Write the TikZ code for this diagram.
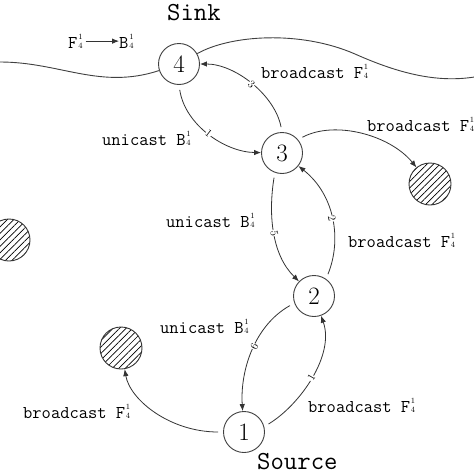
\documentclass[tikz,border=0pt]{standalone}
\usetikzlibrary{arrows.meta,patterns.meta}
\newcommand{\smallfnt}{\rmfamily\fontsize{8}{8}\selectfont}
\newcommand{\idx}{\kern0.8pt{\smallfnt\setlength{\lineskip}{0.6pt}\shortstack[l]{1\\4}}}
\begin{document}
\begin{tikzpicture}[x=1pt,y=-1pt,
 nd/.style={circle,draw=black!75,line width=0.9pt,minimum size=41pt,inner sep=0pt,font=\rmfamily\fontsize{25}{25}\selectfont},
 obs/.style={circle,draw=black!80,line width=0.9pt,minimum size=42pt,inner sep=0pt,pattern={Lines[angle=45,distance=4.6pt,line width=0.7pt]}},
 lbl/.style={anchor=base west,inner sep=0pt,font=\ttfamily\fontsize{18}{18}\selectfont},
 big/.style={anchor=base west,inner sep=0pt,font=\ttfamily\fontsize{26}{26}\selectfont},
 tk/.style={sloped,fill=white,inner sep=0.3pt,font=\rmfamily\fontsize{11}{11}\selectfont},
 edge/.style={line width=0.8pt,draw=black!80,-{Latex[length=7pt,width=5.5pt]},shorten <=5pt},
 wave/.style={line width=0.9pt,draw=black!75}]
\clip (0,0) rectangle (474,474);
\fill[white] (0,0) rectangle (474,474);
% nodes
\node[nd] (n4) at (179,64) {4};
\node[nd] (n3) at (282,153) {3};
\node[nd] (n2) at (314,296) {2};
\node[nd] (n1) at (244,432) {1};
\node[obs] (h1) at (430,184) {};
\node[obs] (h2) at (121,348) {};
\node[obs] (h3) at (9,240) {};
% texts
\node[big] (sink) at (167,20) {Sink};
\node[big] (src) at (257,469) {Source};
\node[lbl] (fa) at (68,48) {F\idx};
\node[lbl] (ba) at (119,48) {B\idx};
\draw[line width=0.8pt,draw=black!80,-{Latex[length=7pt,width=5.5pt]},shorten <=3pt] (fa) -- (ba);
\node[lbl] (l1) at (261,78) {broadcast F\idx};
\node[lbl] (l2) at (102,145) {unicast B\idx};
\node[lbl] (l3) at (367,131) {broadcast F\idx};
\node[lbl] (l4) at (166,227) {unicast B\idx};
\node[lbl] (l5) at (348,247) {broadcast F\idx};
\node[lbl] (l6) at (160,333) {unicast B\idx};
\node[lbl] (l7) at (308,412) {broadcast F\idx};
\node[lbl] (l8) at (23,418) {broadcast F\idx};
% wave
\coordinate (wl) at (0,62);
\coordinate (wr) at (480,76);
\coordinate (wm) at (355,54);
\draw[wave] (wl) .. controls (60,62) and (100,90) .. (n4);
\draw[wave] (n4) .. controls (230,35) and (300,30) .. (wm) .. controls (400,74) and (440,84) .. (wr);
% edges
\draw[edge] (n3.north) .. controls (275,95) and (235,64) .. (n4) node[tk,pos=0.5] {3};
\draw[edge] (n4.south) .. controls (185,125) and (225,152) .. (n3) node[tk,pos=0.5] {1};
\draw[edge] (n3.250) .. controls (268,215) and (272,255) .. (n2) node[tk,pos=0.5] {5};
\draw[edge] (n2.55) .. controls (342,240) and (335,195) .. (n3) node[tk,pos=0.5] {2};
\draw[edge] (n3.40) .. controls (335,120) and (390,135) .. (h1);
\draw[edge] (n2.200) .. controls (255,325) and (240,370) .. (n1) node[tk,pos=0.47] {6};
\draw[edge] (n1.15) .. controls (300,405) and (335,355) .. (n2) node[tk,pos=0.5] {1};
\draw[edge] (n1.west) .. controls (170,432) and (130,400) .. (h2);
\end{tikzpicture}
\end{document}
